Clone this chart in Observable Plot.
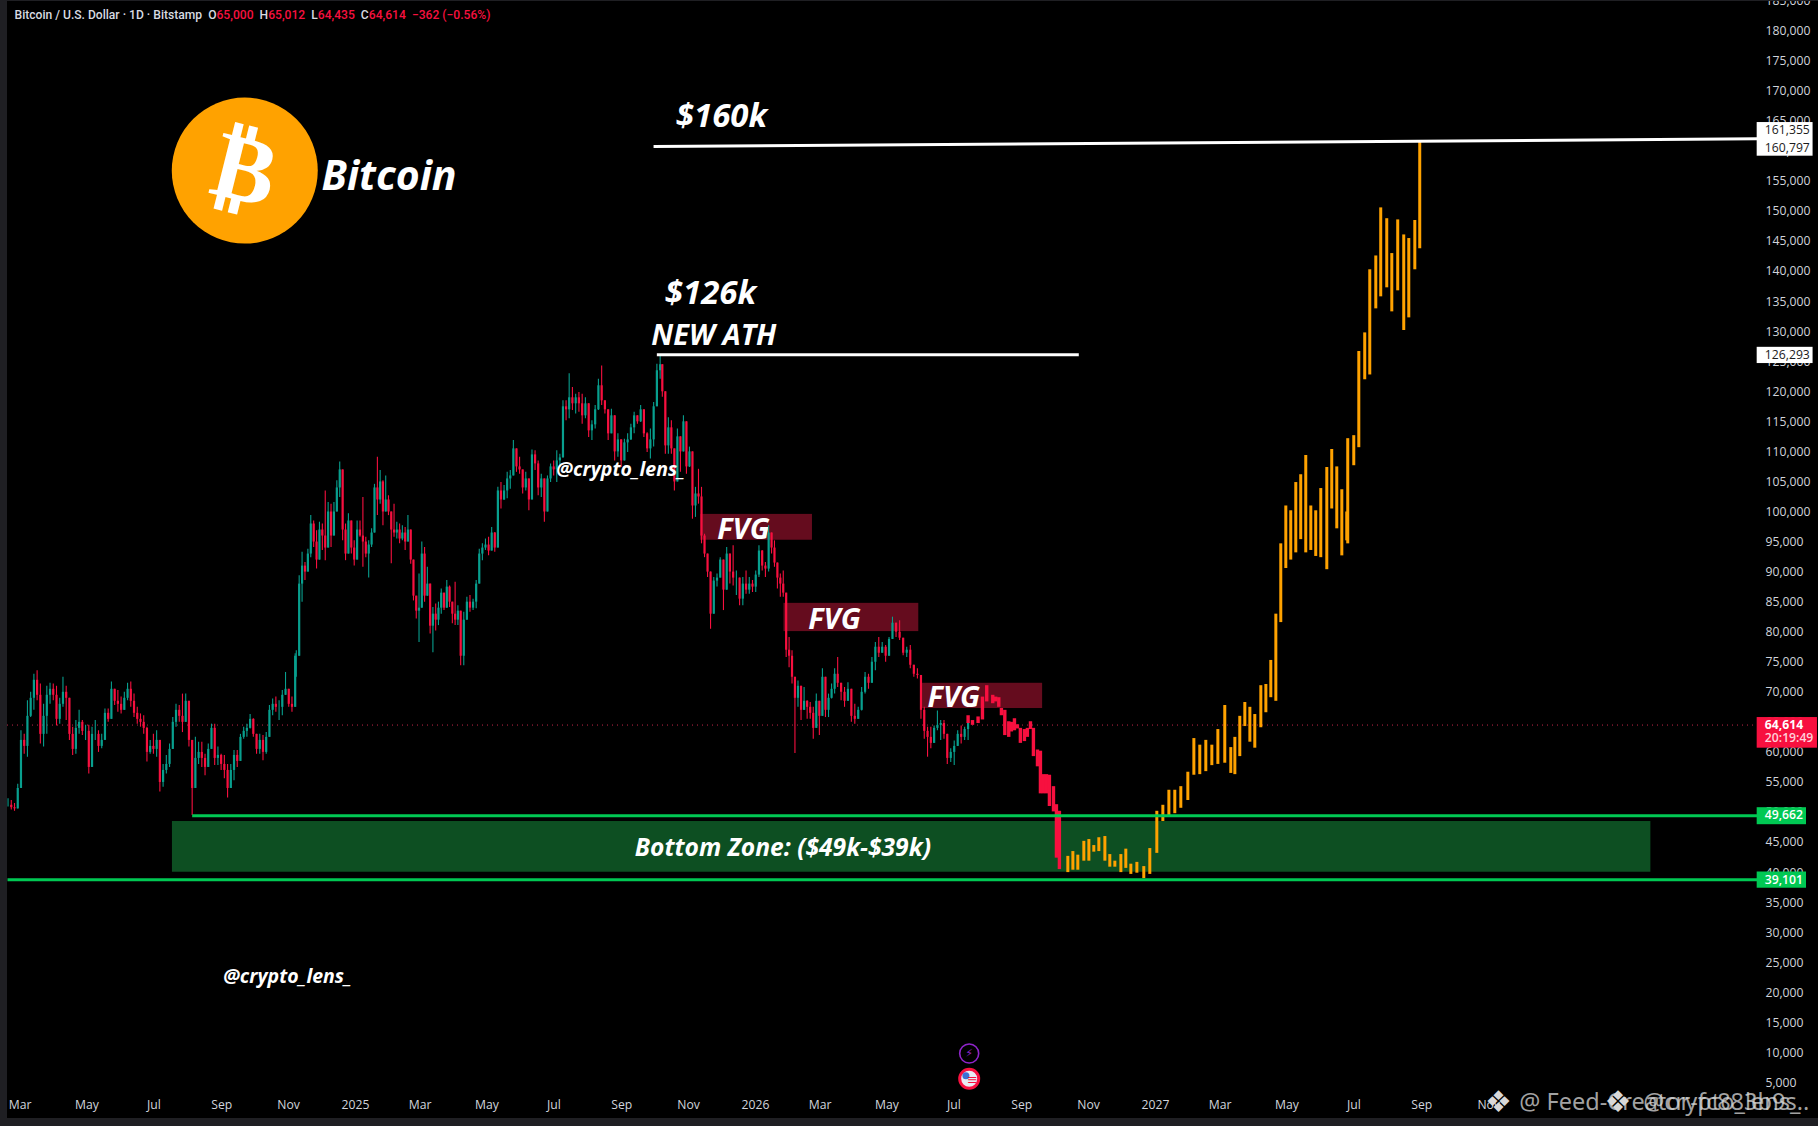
<!DOCTYPE html>
<html><head><meta charset="utf-8">
<script src="https://cdn.jsdelivr.net/npm/d3@7"></script>
<script src="https://cdn.jsdelivr.net/npm/@observablehq/plot@0.6"></script>
<style>
html,body{margin:0;padding:0;background:#1f1f23;overflow:hidden;width:1818px;height:1126px}
#wrap{position:relative;width:1811px;height:1117px;margin:1px 0 0 7px;background:#000}
#wrap svg{display:block;background:#000}
#head{position:absolute;left:7.5px;top:7px;color:#d8dbe2;font:500 12.1px Roboto,sans-serif;white-space:pre;z-index:2}
#head b{font-weight:500;color:#f7103f}
</style></head><body>
<div id="wrap"><div id="head"></div><div id="chart"></div></div>
<script>
// --- header ---
const headerName = "Bitcoin / U.S. Dollar · 1D · Bitstamp";
const headerOHLC = [["O","65,000"],["H","65,012"],["L","64,435"],["C","64,614"]];
const headerChange = "−362 (−0.56%)";

// --- price candles, rows of [high, low, close] in thousands of USD; each open is the previous close ---
const candlesA = [[52.3,50.9,51.2],[52,50.4,50.8],[51.5,50.2,50.6],[54.7,50.9,54],[63.6,56.4,62],[63,59.7,61],[68.6,59.2,66],[70,65.8,69],[73,67,72],[73.6,68.6,69.5],[71.4,61.4,63],[68,60.9,66],[71,63,69.5],[71.5,68,70.5],[71.4,68.6,69.5],[71,64.4,65.5],[69,64.7,68],[72.5,67.5,70],[71,65.3,69],[67.8,62,63],[64.2,59.5,60.5],[65.3,59.7,64],[67,63,65],[65.3,62.8,63.5],[64.5,62,63.5],[64.5,56.4,57.5],[64.2,59.7,63],[65.3,62,63],[63.6,60,61],[63,60.6,62],[67.2,64.2,66.5],[67.2,65,65.5],[71.7,66.1,70.5],[69.4,67.8,68.5],[70.3,66.7,68],[69.2,66.4,67],[70,67.2,69],[71.5,68.6,70.5],[71.7,67.5,68.5],[69.7,65.8,66.5],[67.5,64.7,65.5],[66.4,64.2,65],[66.1,63,64],[64.2,58.4,60],[62,59.7,61],[63,59.7,60.5],[63.6,59.2,62],[59.2,53.4,55],[58,54.2,57],[59.5,56.4,58],[61.4,57.5,60.5],[65.8,62,65],[68,64.2,67],[67.8,65,66],[69.7,63.3,65],[69.7,66.4,68.5],[66.7,60.9,62],[60.9,49.5,54],[62.5,54.7,59],[61.7,58,60],[61.7,57.5,59],[59.7,56.1,57.5],[61.4,58.4,60.5],[64.7,60.9,64],[64.7,57.8,59],[60.9,57.8,59.5],[59.7,57,58],[59.5,55.6,57],[58,52.4,54],[58,54.5,57],[60.3,55.3,59.5],[60.3,57.5,58.5],[63,59.2,62.5],[64.2,62.2,63.5],[64.7,62.5,64],[66.3,63.9,65.5],[65.6,62.5,63],[62.5,59.7,60.5],[63,59.7,62],[62.8,58.6,60],[63.3,59.7,62.5],[67.8,63.6,67],[68.9,66.1,68],[69.2,66.7,67.5],[68.6,65.3,67.5],[70.3,66.1,69.5],[73.3,69.7,70.5],[69.7,67.5,68],[69.2,66.7,67.5],[76.4,69.2,76]];
const candlesB = [[76.9,72.5,76],[89.4,80.2,88],[93.3,85,91],[91.6,88.6,90],[93.8,90.2,93],[99.4,92.4,98],[98.5,94.1,95],[96.9,90.5,92],[98.3,93,97],[98,93.6,96],[103.5,91.9,94],[101.6,97.4,100],[101.3,94.1,96],[101.6,97.4,100],[105.2,100.2,104],[108.3,102.4,107],[106.3,95.2,97],[98,91.9,93],[99.7,93,98.5],[95.2,93,94],[95.2,91,92],[98.5,94.1,97],[98.5,95.8,96],[102.4,90.8,95],[95.8,92.4,93],[95.2,89,94.5],[97.2,94.1,96.5],[104.6,100.2,104],[109.1,99.4,102],[106.9,101.3,105],[105.2,97.7,100],[106,100,102],[102.7,99.4,100],[99.7,91.4,97],[101.3,95.8,96.5],[98.3,95.5,97],[98,94.7,95.5],[97.7,95.2,96.5],[97.4,93.6,95],[99.4,96.1,97],[96.6,91.3,92],[90.8,85.2,86],[85.2,82.2,83.5],[89.7,78.3,84],[95,86.9,93],[94.1,85,86],[90.8,86.3,88],[86.6,79.7,81],[84.1,76.6,83],[84.7,80.2,82],[85,81.1,84],[87.2,83,86.5],[85.8,83.6,84],[88.6,85.5,87.5],[87.7,84.1,85],[84.4,81.4,83],[88.3,81.1,82],[84.4,81.1,83.5],[81.4,74.4,76],[83.3,74.4,82],[85.8,82.5,85],[86.1,83.3,84],[85.5,83.6,85],[88.6,83.9,88],[93.8,91.6,93],[94.7,91.9,94],[95.5,93.6,94.5],[95.8,92.7,93.5],[97.4,93.8,96.5],[96.6,93.3,94],[104.1,100.8,103.5],[104.9,100.5,102],[104.4,101.9,103.5],[106.6,102.2,105.5],[106.9,103.8,106],[111.9,106.6,110.5],[110.5,106.6,107.5],[109.1,106.3,107],[106,103,104],[106.6,103.5,105.5],[105.2,100.2,102],[110.3,106,109.5],[110.2,106.9,108],[108.5,102.7,104],[106.3,102.4,105.5],[104.1,98.3,100],[106,103.3,105.5],[108,104.9,107.5],[108.5,106,107],[110.2,104.9,108.5],[109.6,107.4,109],[118.5,110.2,117.5],[118.5,115.2,117],[123,115.5,119],[120.7,116.9,118],[119.6,116.3,119],[119.9,116.6,118],[119.6,114.6,116],[119,115.5,118],[115.7,112.4,113.5],[115.2,111.9,114.5],[117.7,113.8,117],[122.1,116.9,121],[124.3,117.7,118.5],[118.5,116.3,117],[116.9,111.9,113],[117.1,113.5,116],[111.9,108.5,110],[113,109.1,112],[110.2,107.4,108.5],[112.1,109.1,111.5],[113,109.9,112],[114.6,111.9,114],[116.6,113,116],[116,114.6,115],[117.7,114.9,117],[115.5,112.4,113],[113.2,109.9,110.5],[113.8,108.8,112],[118.2,110.8,117.5],[124.6,118.5,123.5],[126,122.1,124.5]];
const candlesC = [[123.8,119.1,120],[119.6,109.6,111],[115.7,109.6,114],[115.2,109.6,110.5],[109.1,103.5,105],[113.8,105.8,112.5],[111.3,106.6,110],[116,111.9,115],[111.3,106.3,107.5],[110.8,107.4,110],[106.9,98.8,101],[104.1,99.1,103],[107.1,101.3,102.5],[104.1,94.7,96],[96.3,92.4,93],[93,89.1,90],[88.6,80.5,83],[89.1,84.7,88.5],[89.7,87.5,89],[92.4,90.2,92],[91.3,83.6,87],[94.1,89.7,93],[91.9,88,90],[94.4,87.7,89],[90.2,86.1,89],[88.6,84.4,85.5],[89.1,84.4,88],[90.2,86.3,87],[89.1,86.3,88],[88.6,86.6,87.5],[90.2,86.6,89.5],[94.4,89.1,93.5],[93.6,90.2,91],[91.6,89.1,90.5],[97.7,90,96.5],[96.3,93,94],[95.2,90.8,91.5],[90.8,87.2,89],[89.7,85.8,88],[90.2,85.8,86.5],[84.7,75.8,77],[79.1,74.1,76],[76.9,71.4,72.5],[71.9,59.8,69],[71.9,67.5,71],[70.8,65.3,67],[70.8,67.5,68.5],[68.6,65.5,67.5],[68.3,65.5,66.5],[67.5,62.2,64],[69.7,64.7,68.5],[68,62.8,66],[73.9,67.5,72.5],[70.3,65.8,67],[69.7,65.8,69],[71.4,68.9,70.5],[73.9,69.7,73],[75.8,70.8,71.5],[71.4,68.6,70],[70.8,67.5,68.5],[71.6,68.9,70.5],[69.2,65,66],[68,64.7,65.5],[67.5,65.5,67],[70.8,66.9,70],[73.3,69.7,72.5],[73,70.5,71.5],[75.8,73,75],[78.3,73.6,77.5],[79.1,75.8,76.5],[78.3,76.6,77.5],[77.8,75,76],[79.1,78,78.8],[82.5,78.9,81.5],[81.4,79.1,80],[81.9,78.6,79],[78.6,76.1,76.5],[77.5,75.8,77],[77.8,73.9,74.5],[73.9,72.5,73],[73.9,72.2,72.8],[71.1,65.5,67],[67.5,62.2,63.5],[64.2,59.2,62.5],[64.2,60.6,61.5],[64.4,62.5,64],[66.9,63.6,64.5],[65.3,62,64.8],[65.3,62.2,63],[61.9,58,59],[60.6,58.3,60],[61.9,57.8,61],[63.6,61.1,63],[64.4,61.4,62.5],[64.2,62,63.8],[65.8,62,65]];

// --- which row of each candle list falls on which date ---
const anchorsA = [[0,"2024-02-19"],[57,"2024-08-05"],[89,"2024-11-07"]];
const anchorsB = [[0,"2024-11-08"],[28,"2025-01-21"],[58,"2025-04-07"],[93,"2025-07-15"],[121,"2025-10-06"]];
const anchorsC = [[0,"2025-10-08"],[16,"2025-11-21"],[34,"2026-01-13"],[43,"2026-02-06"],[57,"2026-03-17"],[73,"2026-05-06"],[81,"2026-06-01"],[89,"2026-06-25"],[95,"2026-07-14"]];

// --- thick red projected bars ---
const redDays = [0,4,9.1,13.1,17,22.5,25.2,28,30.4,33.5,37.1,39.5,42.3,45,47.7,51.4,54.1,56.9,59.6,63.3,66,68.7,71.5,74.2,77.9,80.6,83.3];
const redHigh = [66.1,65.3,65.9,69.2,71.1,69.5,69.2,69.1,67.3,67,65.1,65,65.6,64.6,64,63.8,64,65.1,64,60.4,60.2,56.3,56.3,56.2,54.3,51.3,50.2];
const redLow  = [64.8,64.5,64.8,65.4,68.4,68.1,68.4,67.5,66.1,62.8,62.5,63.4,63.6,63.9,61.5,61.8,62.5,63.8,59.3,57.6,53.1,53.1,53.1,51,50.1,42.4,40.5];

// --- orange projected bars ---
const orangeDays = [0,4.6,9.1,14.6,19.2,23.7,28.3,33.8,38.3,42.9,48.4,52.9,57.5,63,69.3,74.8,81.2,86.7,92.2,97.6,103.1,109.5,115,120.4,125.9,131.4,136.9,143.2,148.7,152.4,156.9,161.5,166.1,170.6,176.1,180.7,185.2,189.8,194.3,198.9,203.4,208,212.5,217.1,221.7,226.2,230.8,236.3,240.8,245.4,250,254.5,255.4,260.9,265.5,270.9,275.5,281,285.5,291,295.6,301,306.5,311.1,316.6,321.1];
const orangeHigh = [42.7,43.5,42.9,45.2,45.5,44.5,45.8,46,43,41.9,43,43.9,41.4,41.7,41,44,50.2,51.2,53.7,53.7,54.3,56.7,62.3,61.2,62,61.2,63.8,67.8,60.8,62.5,66,68.3,67.5,66.3,71.1,71.3,75.3,83,94.7,101,100.2,104.9,106.2,109.4,101,100.2,103.9,107.4,110.4,107.5,103.7,100,112.2,112.7,126.7,129.8,140.3,142.6,150.6,148.8,143,148.6,146.1,145.5,148.5,161.8];
const orangeLow  = [40,40.4,40.4,41.9,41.9,43.4,43.5,41.9,40.9,40.9,40,40.7,39.7,39.9,39,39.7,43.2,48.5,49.2,49.8,50.7,52,56.2,56.3,56.8,57.8,58,58.2,56.5,56.3,59.3,64.3,61.7,60.7,64.1,66.6,69.1,68.5,81.6,90.6,92,93.2,95.4,93.2,93.6,92.6,92.4,90.4,100.5,97.2,92.7,95.2,94.7,107.7,110.7,122,122.8,133.8,135.8,137.3,133.3,136.8,130.2,132.3,140.3,143.8];

// --- axis labels ---
const priceTicks = d3.range(5000, 190000, 5000);
const monthTicks = d3.utcMonths(new Date("2024-03-01"), new Date("2027-12-01"), 2);

// --- price levels and tags ---
const greenLevels = [49.45, 38.8];
const currentPrice = 64.55;
const athLevel = 126.15;
const target160 = [160.8, 162.1];
const zone = {top: 48.5, bottom: 40.06, label: "Bottom Zone: ($49k-$39k)"};
const fvgTop = [99.6, 84.8, 71.5], fvgBottom = [95.3, 80.1, 67.3];
const fvgStart = ["2025-11-12","2026-01-27","2026-06-02"], fvgEnd = ["2026-02-22","2026-05-30","2026-09-20"];
const fvgText = ["2025-12-21","2026-03-14","2026-07-01"], fvgTextPrice = [97.0, 82.1, 69.1];

const D = s => new Date(s);
const k = v => v * 1000;

function stamp(rows, anchors, state) {
  const dateOf = d3.scaleLinear(anchors.map(a => a[0]), anchors.map(a => +D(a[1])));
  return rows.map(([hi, lo, close], i) => {
    const open = state.prev ?? close;
    state.prev = close;
    return {date: new Date(dateOf(i)), open: k(open), close: k(close),
            high: k(Math.max(hi, open, close)), low: k(Math.min(lo, open, close))};
  });
}
const st = {};
const candles = [...stamp(candlesA, anchorsA, st), ...stamp(candlesB, anchorsB, st), ...stamp(candlesC, anchorsC, st)];
const up = candles.filter(d => d.close >= d.open), down = candles.filter(d => d.close < d.open);
const projStart = +D("2026-07-14"), orangeStart = +D("2026-10-13");
const redBars = redDays.map((d, i) => ({date: new Date(projStart + d * 864e5), hi: k(redHigh[i]), lo: k(redLow[i])}));
const orangeBars = orangeDays.map((d, i) => ({date: new Date(orangeStart + d * 864e5), hi: k(orangeHigh[i]), lo: k(orangeLow[i])}));

const TEAL = "#089f8e", RED = "#f7103f", ORANGE = "#ffa200", GREEN = "#00c853", WHITE = "#ffffff";
const xEnd = D("2028-07-03T07:00Z"), xStart = D("2024-02-18T12:00Z");
const tagA = D("2028-07-03"), tagB = D("2028-08-23"), tagG = D("2028-08-17"), tagR = D("2028-08-27"), tagT = D("2028-07-10");
const big = {fontFamily: "Open Sans", fontWeight: 700, fontStyle: "italic", fill: WHITE};
const note = (text, date, price, size, extra = {}) =>
  Plot.text([text], {x: () => D(date), y: () => k(price), text: d => d, fontSize: size, ...big, ...extra});
const box = (x1, x2, top, bottom, fill) =>
  Plot.rect([0], {x1: () => x1, x2: () => x2, y1: () => k(bottom), y2: () => k(top), fill});
const hline = (x1, x2, y1, y2, stroke, strokeWidth = 3) =>
  Plot.link([0], {x1: () => x1, x2: () => x2, y1: () => k(y1), y2: () => k(y2), stroke, strokeWidth});
const tag = (text, price, fill, weight = 500) =>
  Plot.text([text], {x: () => tagT, y: () => k(price), text: d => d, textAnchor: "start", fill, fontSize: 12.2, fontWeight: weight, fontFamily: "Open Sans"});

const chart = Plot.plot({
  width: 1811, height: 1117,
  marginLeft: 0, marginRight: 61, marginTop: 0, marginBottom: 18,
  style: {background: "#000", color: "#d1d4dc", fontFamily: "Open Sans", fontSize: "12.2px", fontWeight: 500},
  x: {type: "utc", domain: [xStart, xEnd]},
  y: {type: "linear", domain: [2080, 184940]},
  marks: [
    // zone and gaps beneath the price
    box(D("2024-07-18"), D("2028-03-28"), zone.top, zone.bottom, "#0d4f22"),
    ...fvgTop.map((t, i) => box(D(fvgStart[i]), D(fvgEnd[i]), t, fvgBottom[i], "#650c1e")),
    ...fvgText.map((d, i) => note("FVG", d, fvgTextPrice[i], 29)),
    note(zone.label, "2026-01-26", 44.05, 24.6),

    // price dotted line
    Plot.ruleY([k(currentPrice)], {stroke: "#c2274a", strokeWidth: 1, strokeDasharray: "1,4", x1: () => xStart, x2: () => xEnd}),

    // candles
    Plot.ruleX(up, {x: "date", y1: "low", y2: "high", stroke: TEAL, strokeWidth: 1.1}),
    Plot.ruleX(down, {x: "date", y1: "low", y2: "high", stroke: RED, strokeWidth: 1.1}),
    Plot.ruleX(up, {x: "date", y1: "open", y2: "close", stroke: TEAL, strokeWidth: 2.2}),
    Plot.ruleX(down, {x: "date", y1: "open", y2: "close", stroke: RED, strokeWidth: 2.2}),
    Plot.ruleX(redBars, {x: "date", y1: "lo", y2: "hi", stroke: RED, strokeWidth: 3.4}),
    Plot.ruleX(orangeBars, {x: "date", y1: "lo", y2: "hi", stroke: ORANGE, strokeWidth: 3}),

    // horizontal levels
    hline(D("2024-08-05"), xEnd, greenLevels[0], greenLevels[0], GREEN),
    hline(xStart, xEnd, greenLevels[1], greenLevels[1], GREEN),
    hline(D("2025-10-03"), D("2026-10-23"), athLevel, athLevel, WHITE),
    hline(D("2025-09-30"), xEnd, target160[0], target160[1], WHITE),

    // annotations
    note("$160k", "2025-12-01", 165.8, 33),
    note("$126k", "2025-11-21", 136.3, 33),
    note("NEW ATH", "2025-11-24", 129.4, 29),
    note("@crypto_lens_", "2025-08-31", 107.1, 19.5),
    note("@crypto_lens_", "2024-10-31", 22.7, 19.5),

    // logo
    Plot.dot([0], {x: () => D("2024-09-22"), y: () => k(156.8), r: 73, fill: ORANGE, stroke: "none"}),
    Plot.text(["₿"], {x: () => D("2024-09-22"), y: () => k(156.8), text: d => d, fontSize: 94, fontWeight: 700, fontFamily: "DejaVu Sans", fill: WHITE, rotate: 14}),
    note("Bitcoin", "2024-12-01", 155.8, 41, {textAnchor: "start"}),

    // event icons
    Plot.dot([0], {x: () => D("2026-07-15"), y: () => k(9.9), r: 9.5, stroke: "#8e24c9", strokeWidth: 1.6, fill: "#000"}),
    Plot.text(["⚡"], {x: () => D("2026-07-15"), y: () => k(9.9), text: d => d, fill: "#8e24c9", fontSize: 11, fontFamily: "DejaVu Sans"}),
    Plot.dot([0], {x: () => D("2026-07-15"), y: () => k(5.7), r: 9.5, stroke: RED, strokeWidth: 3, fill: "#e8ecf4"}),
    Plot.dot([0], {x: () => D("2026-07-12"), y: () => k(6.2), r: 3.5, fill: "#3b6fd4"}),
    Plot.text(["≡"], {x: () => D("2026-07-18"), y: () => k(5.6), text: d => d, fill: RED, fontSize: 13, fontFamily: "DejaVu Sans"}),

    // axes
    Plot.axisX({anchor: "bottom", ticks: monthTicks, tickSize: 0, tickPadding: 0, label: null, color: "#d1d4dc",
      tickFormat: d => d.getUTCMonth() === 0 ? d3.utcFormat("%Y")(d) : d3.utcFormat("%b")(d)}),
    Plot.axisY({anchor: "right", ticks: priceTicks, tickSize: 0, tickPadding: 8, label: null, color: "#d1d4dc", tickFormat: d3.format(",")}),

    // price tags
    box(tagA, tagB, 164.8, 159.2, WHITE),
    tag("161,355", 163.5, "#1b1b1b"), tag("160,797", 160.6, "#1b1b1b"),
    box(tagA, tagB, 127.4, 124.7, WHITE),
    tag("126,293", 126.05, "#1b1b1b"),
    box(tagA, tagR, 65.8, 60.7, RED),
    tag("64,614", 64.5, WHITE, 700), tag("20:19:49", 62.3, "#ffd0da", 600),
    box(tagA, tagG, 50.8, 47.97, GREEN),
    tag("49,662", 49.5, WHITE, 600),
    box(tagA, tagG, 40.1, 37.4, GREEN),
    tag("39,101", 38.8, WHITE, 600),

    // watermark
    Plot.text(["❖"], {x: () => D("2027-11-10"), y: () => 1750, text: d => d, fill: "#d8d8d8", fontSize: 30, fontFamily: "DejaVu Sans"}),
    Plot.text(["@ Feed-Creator-fc883b9s.."], {x: () => D("2027-11-29"), y: () => 1750, text: d => d, textAnchor: "start", fill: "#d8d8d8", fillOpacity: 0.75, fontSize: 23.5, fontFamily: "Noto Sans", fontWeight: 400}),
    Plot.text(["❖"], {x: () => D("2028-02-27"), y: () => 1750, text: d => d, fill: "#d8d8d8", fontSize: 30, fontFamily: "DejaVu Sans"}),
    Plot.text(["@crypto_lens_"], {x: () => D("2028-03-21"), y: () => 1750, text: d => d, textAnchor: "start", fill: "#d8d8d8", fillOpacity: 0.75, fontSize: 23.5, fontFamily: "Noto Sans", fontWeight: 400})
  ]
});
document.getElementById("chart").append(chart);

const head = document.getElementById("head");
head.innerHTML = headerName + "  " + headerOHLC.map(([l, v]) => `${l}<b>${v}</b>`).join("  ") + "  <b>" + headerChange + "</b>";
</script>
</body></html>
